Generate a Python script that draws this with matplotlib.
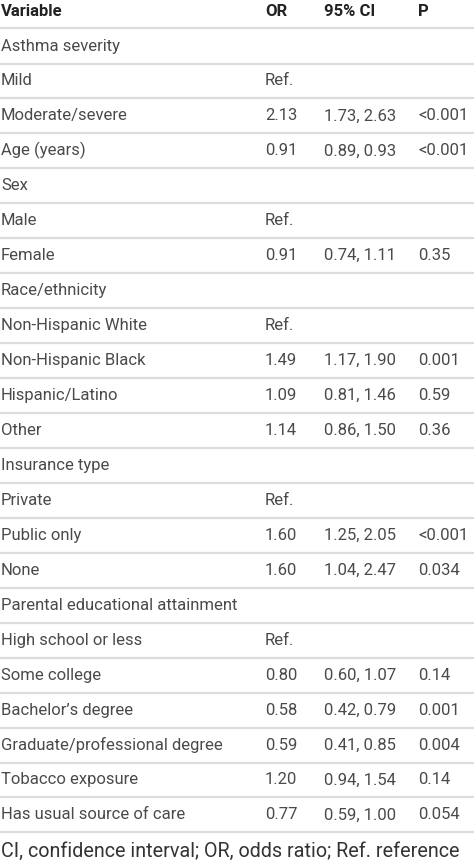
import matplotlib
matplotlib.use("Agg")
import matplotlib.pyplot as plt

headers = ["Variable", "OR", "95% CI", "P"]
variables = ["Asthma severity", "Mild", "Moderate/severe", "Age (years)", "Sex", "Male", "Female",
             "Race/ethnicity", "Non-Hispanic White", "Non-Hispanic Black", "Hispanic/Latino", "Other",
             "Insurance type", "Private", "Public only", "None", "Parental educational attainment",
             "High school or less", "Some college", "Bachelor\u2019s degree", "Graduate/professional degree",
             "Tobacco exposure", "Has usual source of care"]
or_vals = ["", "Ref.", "2.13", "0.91", "", "Ref.", "0.91", "", "Ref.", "1.49", "1.09", "1.14",
           "", "Ref.", "1.60", "1.60", "", "Ref.", "0.80", "0.58", "0.59", "1.20", "0.77"]
ci_vals = ["", "", "1.73, 2.63", "0.89, 0.93", "", "", "0.74, 1.11", "", "", "1.17, 1.90", "0.81, 1.46",
           "0.86, 1.50", "", "", "1.25, 2.05", "1.04, 2.47", "", "", "0.60, 1.07", "0.42, 0.79",
           "0.41, 0.85", "0.94, 1.54", "0.59, 1.00"]
p_vals = ["", "", "<0.001", "<0.001", "", "", "0.35", "", "", "0.001", "0.59", "0.36", "", "",
          "<0.001", "0.034", "", "", "0.14", "0.001", "0.004", "0.14", "0.054"]
footnote = "CI, confidence interval; OR, odds ratio; Ref. reference"

plt.rcParams['font.family'] = ['Roboto', 'DejaVu Sans']
fig = plt.figure(figsize=(4.74, 8.61), dpi=100)
ax = fig.add_axes([0, 0, 1, 1])
ax.set_xlim(0, 474)
ax.set_ylim(861, 0)
ax.axis('off')

colx = [1, 265, 324, 418]
fs = 12
for x, h in zip(colx, headers):
    ax.text(x, 12, h, fontsize=fs, fontweight='bold', color='#222222', va='center')
ax.axhline(27.5, color='#dcdcdc', lw=1.6)
pitch = 34.95
for i, row in enumerate(zip(variables, or_vals, ci_vals, p_vals)):
    y = 46 + i * pitch
    for x, t in zip(colx, row):
        if t:
            ax.text(x, y, t, fontsize=fs, color='#4a4a4a', va='center')
    ax.axhline(y + 17.5, color='#dcdcdc', lw=1.6)
ax.text(1, 851, footnote, fontsize=14.2, color='#333333', va='center')
fig.savefig("out.png", dpi=100, facecolor='white')
